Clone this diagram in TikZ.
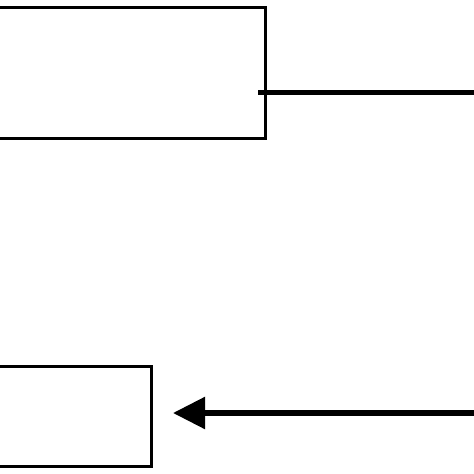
\documentclass[tikz,border=0pt]{standalone}
\usetikzlibrary{arrows.meta}
\begin{document}
\begin{tikzpicture}[x=1pt,y=-1pt,
  boxstyle/.style={draw=black,line width=3pt,inner sep=0pt,fill=white},
  conn/.style={draw=black,line width=5pt},
  arr/.style={draw=black,line width=5.5pt,-{Triangle[length=32pt,width=31pt]}}]
\useasboundingbox (0,0) rectangle (474,474);
\clip (0,0) rectangle (474,474);
\node[boxstyle,minimum width=285pt,minimum height=131pt] (top) at (122.5,72.5) {};
\node[boxstyle,minimum width=171pt,minimum height=100pt] (bot) at (65.5,416.5) {};
\coordinate (topend) at (485,92);
\coordinate (start) at (258,92);
\coordinate (arrstart) at (485,413);
\coordinate (tip) at (173,413);
\draw[conn] (start) -- (topend);
\draw[arr] (arrstart) -- (tip);
\end{tikzpicture}
\end{document}
